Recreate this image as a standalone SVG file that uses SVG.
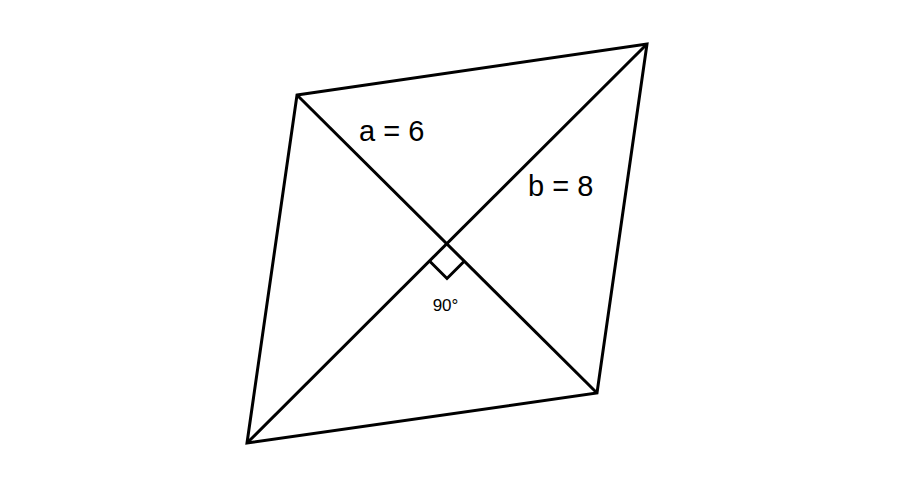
<svg xmlns="http://www.w3.org/2000/svg" width="917" height="502" viewBox="0 0 917 502">
<style>
.ln{stroke:#000;stroke-width:3;fill:none;stroke-linejoin:miter}
.lbl{font-family:"Liberation Sans",Arial,sans-serif;fill:#000}
</style>
<rect width="917" height="502" fill="#fff"/>
<g id="connectors">
<polygon class="ln" points="297,95 647,44 597,393 247,443"/>
<line class="ln" x1="297" y1="95" x2="597" y2="393"/>
<line class="ln" x1="647" y1="44" x2="247" y2="443"/>
<polyline class="ln" stroke-width="2.5" points="430,261.5 447,278.5 464,261.5"/>
</g>
<g id="label-a"><text class="lbl" x="359" y="140.5" font-size="29">a = 6</text></g>
<g id="label-b"><text class="lbl" x="528" y="195.5" font-size="29">b = 8</text></g>
<g id="label-angle"><text class="lbl" x="445.5" y="311" font-size="17" text-anchor="middle">90°</text></g>
</svg>
